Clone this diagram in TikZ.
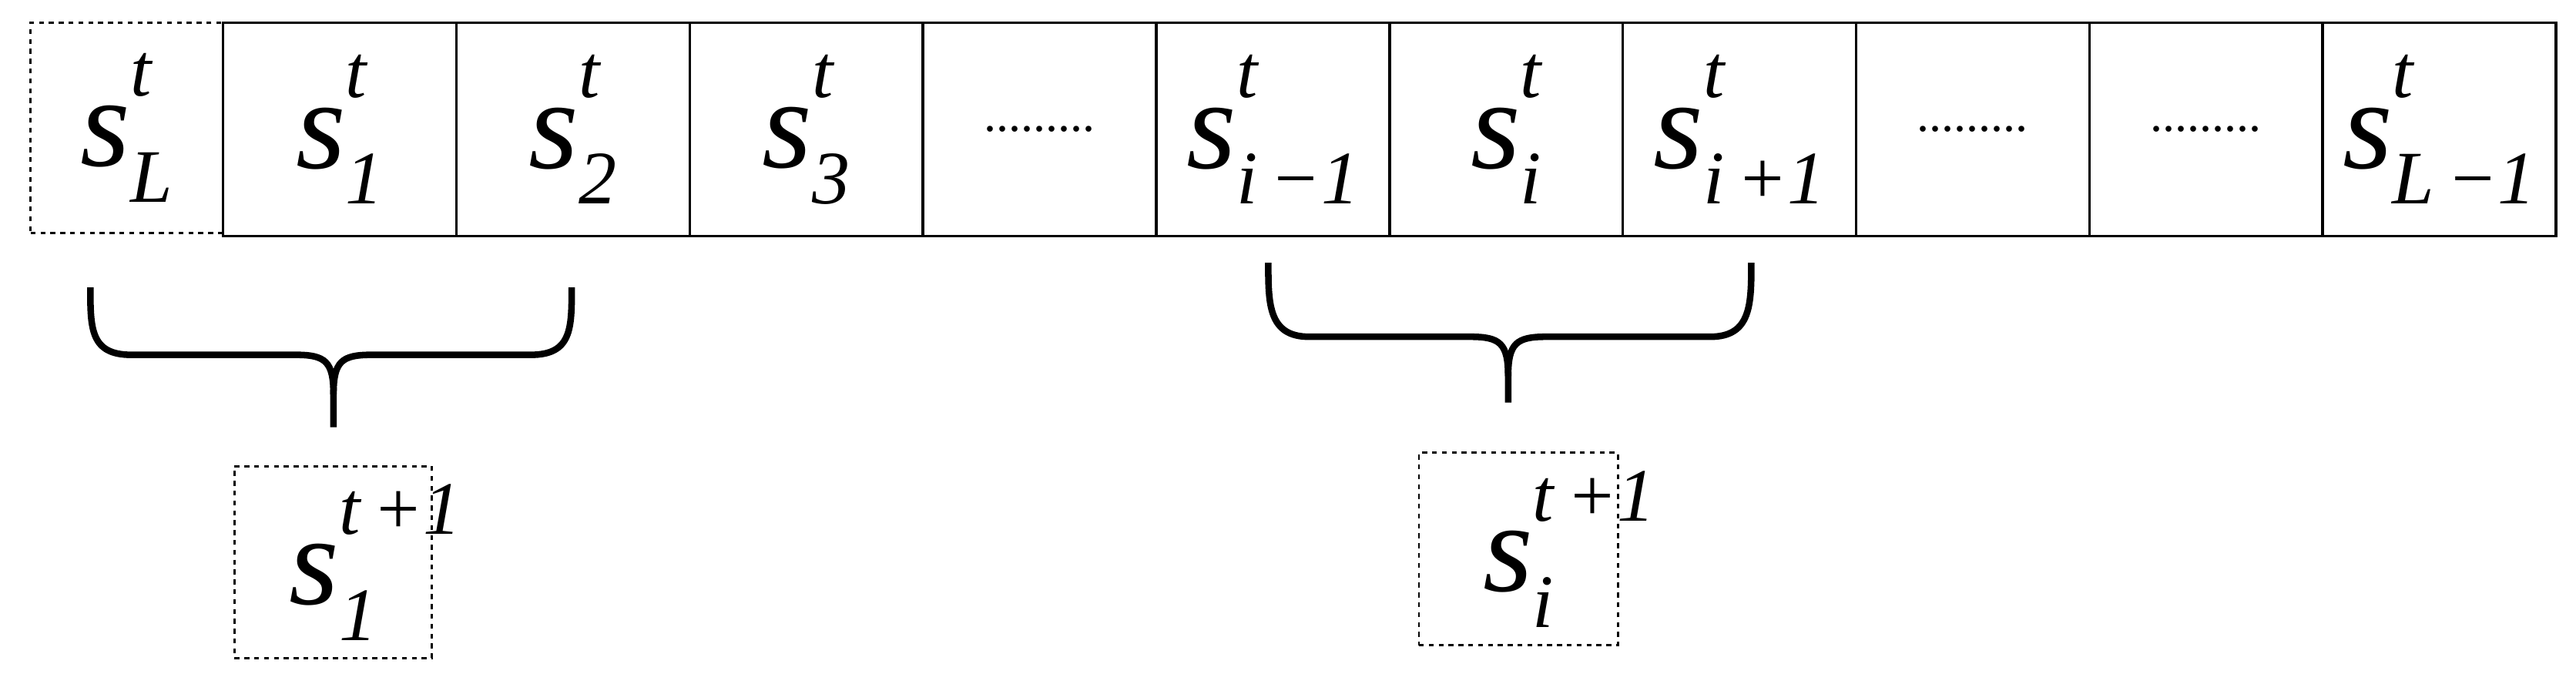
\documentclass[tikz,border=0pt]{standalone}
\usepackage{fontspec}
\setmainfont{Liberation Serif}
\newcommand{\sv}[2]{\textit{s}\raisebox{0.55em}{\fontsize{46}{46}\selectfont\rlap{\textit{#1}}}\raisebox{-0.28em}{\fontsize{46}{46}\selectfont\textit{#2}}}
\begin{document}
\begin{tikzpicture}[x=1pt,y=-1pt,
  cell/.style={draw,line width=1.6pt,minimum width=142pt,minimum height=130pt,inner sep=0,anchor=north west,font=\fontsize{78}{78}\selectfont},
  dbox/.style={draw,dashed,line width=1.4pt,inner sep=0,anchor=north west,font=\fontsize{78}{78}\selectfont},
  brace/.style={line width=4pt}]
\useasboundingbox (0,0) rectangle (1568,410);
\node[dbox,minimum width=117pt,minimum height=128pt] (sL) at (18,13) {\sv{t}{L}};
\foreach \i/\t [count=\k from 0] in {1/{\sv{t}{1}},2/{\sv{t}{2}},3/{\sv{t}{3}},4/{\fontsize{30}{30}\selectfont .........},5/{\sv{t}{i\,−1}},6/{\sv{t}{i}},7/{\sv{t}{i\,+1}},8/{\fontsize{30}{30}\selectfont .........},9/{\fontsize{30}{30}\selectfont .........},10/{\sv{t}{L\,−1}}}
  \node[cell] (c\i) at (135+142*\k,13) {\t};
\node[dbox,minimum width=120pt,minimum height=117pt] (b1) at (142,283) {\sv{t\,+1}{1}};
\node[dbox,minimum width=121pt,minimum height=117pt] (b2) at (863,275) {\sv{t\,+1}{i}};
\draw[brace] (55,175) .. controls (55,200) and (55,216) .. (80,216) -- (180,216) .. controls (198,216) and (203,220) .. (203,240) -- (203,260);
\draw[brace] (348,175) .. controls (348,200) and (348,216) .. (323,216) -- (226,216) .. controls (208,216) and (203,220) .. (203,240);
\draw[brace] (772,160) .. controls (772,185) and (772,205) .. (797,205) -- (895,205) .. controls (913,205) and (918,209) .. (918,229) -- (918,245);
\draw[brace] (1066,160) .. controls (1066,185) and (1066,205) .. (1041,205) -- (941,205) .. controls (923,205) and (918,209) .. (918,229);
\end{tikzpicture}
\end{document}
